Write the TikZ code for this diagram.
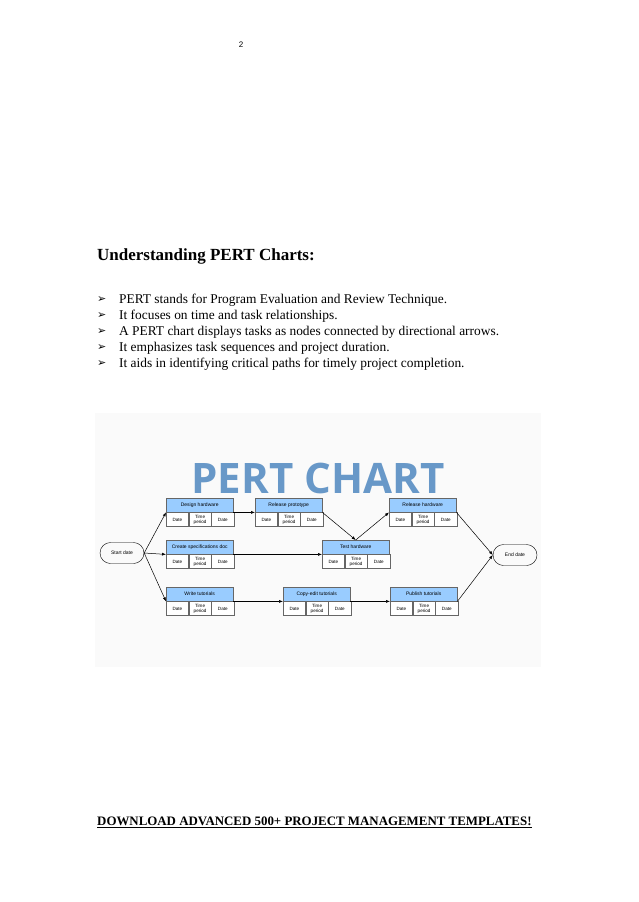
\documentclass[tikz,border=0pt]{standalone}
\usepackage{fontspec}
\setmainfont{Liberation Serif}
\newfontfamily\arial{Liberation Sans}
\newfontfamily\osans{Open Sans}
\newfontfamily\dejavu{DejaVu Sans}
\usetikzlibrary{arrows.meta,shapes.misc}
\definecolor{hdr}{RGB}{153,204,255}
\definecolor{pertblue}{RGB}{104,152,200}
\tikzset{
  hd/.style={draw=black!60,fill=hdr,line width=0.4pt,minimum height=14pt,minimum width=67pt,inner sep=0pt,font=\arial\fontsize{5}{6}\selectfont},
  cell/.style={draw=black!60,fill=white,line width=0.4pt,minimum height=14pt,minimum width=22.33pt,inner sep=0pt,align=center,font=\arial\fontsize{4.6}{5}\selectfont},
  term/.style={draw,rounded rectangle,minimum width=44pt,minimum height=21pt,inner sep=0pt,font=\arial\fontsize{5}{6}\selectfont},
  con/.style={-{Latex[length=4pt,width=3pt]},line width=0.5pt},
  bul/.style={anchor=west,font=\fontsize{13.4}{16}\selectfont,inner sep=0pt}
}
\newcommand{\task}[4]{% name, x (left), y (header top), label
  \node[hd,anchor=north west] (#1) at (#2,#3) {#4};
  \node[cell,anchor=north west] (#1a) at (#1.south west) {Date};
  \node[cell,anchor=north west] (#1b) at (#1a.north east) {Time\\period};
  \node[cell,anchor=north west] (#1c) at (#1b.north east) {Date};
}
\begin{document}
\begin{tikzpicture}[x=1pt,y=-1pt]
\useasboundingbox[fill=white] (0,0) rectangle (638,902);
\node[font=\arial\fontsize{8}{9}\selectfont] (pg) at (241,45) {2};
\node[anchor=west,inner sep=0pt,font=\bfseries\fontsize{17}{20}\selectfont] (title) at (97,256) {Understanding PERT Charts:};
\foreach \i/\t in {0/PERT stands for Program Evaluation and Review Technique.,
  1/It focuses on time and task relationships.,
  2/A PERT chart displays tasks as nodes connected by directional arrows.,
  3/It emphasizes task sequences and project duration.,
  4/It aids in identifying critical paths for timely project completion.}{
  \node[bul,font=\dejavu\fontsize{11}{13}\selectfont] (b\i) at (97,300+16*\i) {➢};
  \node[bul] (t\i) at (119,300+16*\i) {\t};
}
\fill[black!2] (95,413) rectangle (541,667);
\node[font=\osans\bfseries\fontsize{42}{42}\selectfont,text=pertblue,inner sep=0pt] (pc) at (318,478) {PERT CHART};
\task{dh}{166}{498}{Design hardware}
\task{rp}{255}{498}{Release prototype}
\task{rh}{389}{498}{Release hardware}
\task{cs}{166}{540}{Create specifications doc}
\task{th}{322}{540}{Test hardware}
\task{wt}{166}{587}{Write tutorials}
\task{ce}{283}{587}{Copy-edit tutorials}
\task{pt}{390}{587}{Publish tutorials}
\node[term] (sd) at (122,553) {Start date};
\node[term] (ed) at (515,555) {End date};
\draw[con] (sd.east) -- (dh.south west);
\draw[con] (sd.east) -- (cs.south west);
\draw[con] (sd.east) -- (wt.south west);
\draw[con] (dh.south east) -- (rp.south west);
\draw[con] (rp.south east) -- (th.north);
\draw[con] (th.north) -- (rh.south west);
\draw[con] (cs.south east) -- (th.south west);
\draw[con] (wt.south east) -- (ce.south west);
\draw[con] (ce.south east) -- (pt.south west);
\draw[con] (rh.south east) -- (ed.west);
\draw[con] (pt.south east) -- (ed.west);
\node[anchor=west,inner sep=0pt,font=\bfseries\fontsize{12.9}{14}\selectfont] (dl) at (97,822) {\underline{DOWNLOAD ADVANCED 500+ PROJECT MANAGEMENT TEMPLATES!}};
\end{tikzpicture}
\end{document}
